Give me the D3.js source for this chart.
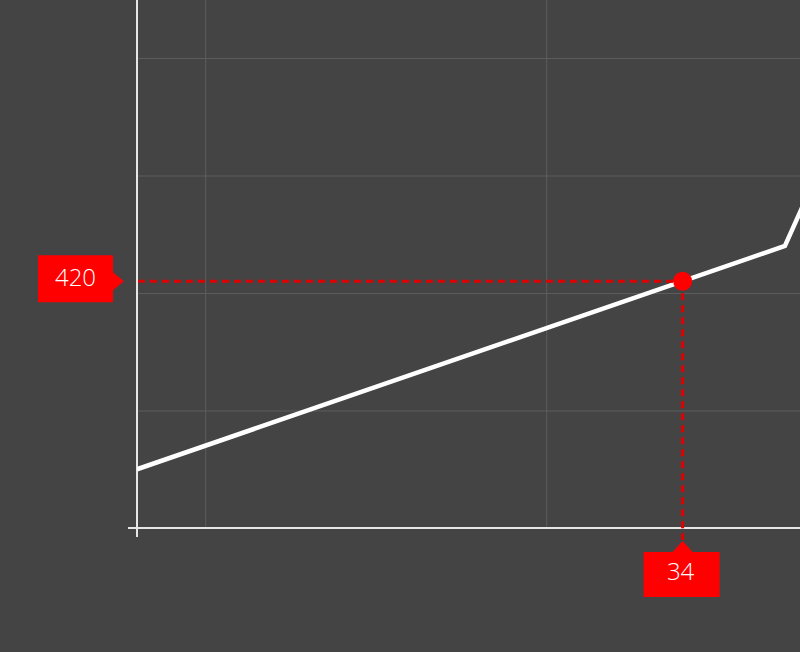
<!DOCTYPE html>
<html>
<head>
<meta charset="utf-8">
<script src="https://cdn.jsdelivr.net/npm/d3@7"></script>
<style>
  html, body { margin: 0; padding: 0; background: #444444; }
  svg { display: block; }
  .grid line { stroke: #5c5c5c; stroke-width: 1; }
  .grid path { display: none; }
  .label text { font-family: 'Open Sans', Roboto, sans-serif; font-weight: 300; font-size: 24px; fill: #ffffff; }
</style>
</head>
<body>
<svg class="chart" width="800" height="652"></svg>
<script>
// line series
const xValues = [18, 37, 38];
const yValues = [100, 480, 610];
// highlighted point
const markX = 34;
const markY = 420;
// grid ticks
const xTicks = [20, 30];
const yTicks = [0, 200, 400, 600, 800];

const svg = d3.select('svg.chart'),
  W = 800, H = 652,
  margin = { left: 137, bottom: 124 },
  originY = H - margin.bottom;

const x = d3.scaleLinear().domain([18, 38]).range([margin.left, margin.left + 20 * 34.1]),
  y = d3.scaleLinear().domain([0, 800]).range([originY, 58]);

svg.append('defs').append('clipPath').attr('id', 'plot')
  .append('rect')
  .attr('x', margin.left).attr('y', 0)
  .attr('width', W - margin.left).attr('height', originY);

// grid
svg.append('g')
  .attr('class', 'grid')
  .attr('transform', 'translate(0,' + originY + ')')
  .call(d3.axisBottom(x).tickValues(xTicks).tickSize(-originY).tickFormat(''));

svg.append('g')
  .attr('class', 'grid')
  .attr('transform', 'translate(' + margin.left + ',0)')
  .call(d3.axisLeft(y).tickValues(yTicks).tickSize(-(W - margin.left)).tickFormat(''));

// axes
svg.append('line')
  .attr('x1', margin.left).attr('x2', margin.left)
  .attr('y1', 0).attr('y2', originY + 9)
  .attr('stroke', '#e6e6e6').attr('stroke-width', 2);
svg.append('line')
  .attr('x1', margin.left - 9).attr('x2', W)
  .attr('y1', originY).attr('y2', originY)
  .attr('stroke', '#e6e6e6').attr('stroke-width', 2);

// series line
const pts = xValues.map((d, i) => [d, yValues[i]]);
svg.append('path')
  .datum(pts)
  .attr('clip-path', 'url(#plot)')
  .attr('fill', 'none')
  .attr('stroke', '#ffffff')
  .attr('stroke-width', 4.5)
  .attr('d', d3.line().x((d) => x(d[0])).y((d) => y(d[1])));

// crosshair
const px = x(markX), py = y(markY);
svg.append('line')
  .attr('x1', margin.left + 1).attr('x2', px)
  .attr('y1', py).attr('y2', py)
  .attr('stroke', '#e00000').attr('stroke-width', 3).attr('stroke-dasharray', '7,5');
svg.append('line')
  .attr('x1', px).attr('x2', px)
  .attr('y1', py).attr('y2', originY + 12)
  .attr('stroke', '#e00000').attr('stroke-width', 3).attr('stroke-dasharray', '7,5');
svg.append('circle')
  .attr('cx', px).attr('cy', py).attr('r', 9.5)
  .attr('fill', '#ff0000');

// y value label
const yl = svg.append('g').attr('class', 'label');
yl.append('path')
  .attr('fill', '#ff0000')
  .attr('d', 'M38,' + (py - 26) + 'H113V' + (py - 9) + 'L124,' + py + 'L113,' + (py + 9) + 'V' + (py + 21) + 'H38Z');
yl.append('text')
  .attr('x', 75.5).attr('y', py - 2)
  .attr('text-anchor', 'middle').attr('dominant-baseline', 'middle')
  .text(markY);

// x value label
const xl = svg.append('g').attr('class', 'label');
const boxTop = 552;
xl.append('path')
  .attr('fill', '#ff0000')
  .attr('d', 'M' + (px - 39) + ',' + boxTop + 'H' + (px - 10) + 'L' + px + ',' + (boxTop - 11) + 'L' + (px + 10) + ',' + boxTop +
    'H' + (px + 37) + 'V597H' + (px - 39) + 'Z');
xl.append('text')
  .attr('x', px - 2).attr('y', boxTop + 22)
  .attr('text-anchor', 'middle').attr('dominant-baseline', 'middle')
  .text(markX);
</script>
</body>
</html>
